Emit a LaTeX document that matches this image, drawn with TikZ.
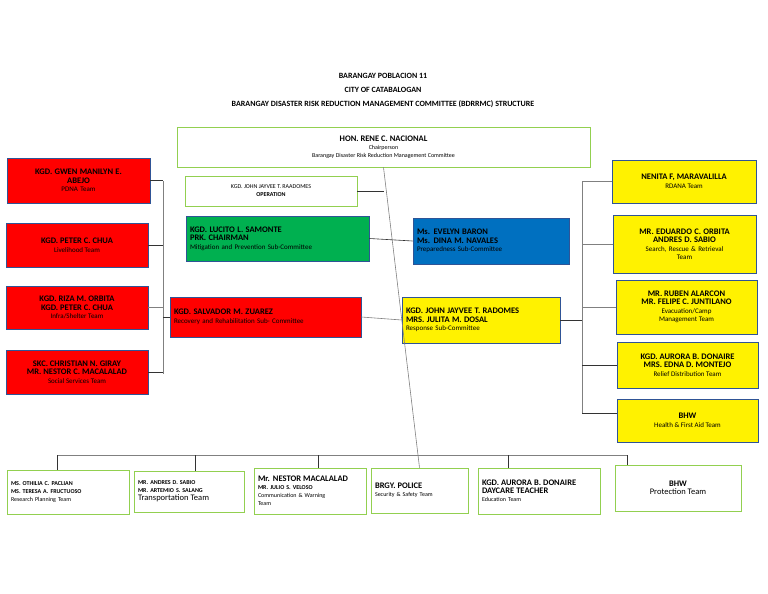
\documentclass[tikz,border=0pt]{standalone}
\usepackage{fontspec}
\setmainfont{Carlito}
\usetikzlibrary{positioning}
\definecolor{boxgreen}{RGB}{0,176,80}
\definecolor{boxblue}{RGB}{0,112,192}
\definecolor{framegreen}{RGB}{146,208,80}
\definecolor{frameblue}{RGB}{47,84,150}
\tikzset{
  unit/.style={draw=frameblue,line width=0.8pt,inner sep=2pt,font=\fontsize{7}{8.5}\selectfont},
  redbox/.style={unit,fill=red},
  yelbox/.style={unit,fill=yellow},
  plainbox/.style={draw=framegreen,line width=0.8pt,fill=white,inner sep=3pt,font=\fontsize{6}{8}\selectfont},
  link/.style={black!80,line width=0.6pt}
}
\newcommand{\nm}[1]{{\bfseries\fontsize{8.5}{10}\selectfont #1}}
\begin{document}
\begin{tikzpicture}[x=1pt,y=-1pt]
  \useasboundingbox (0,0) rectangle (768,594);
  %title
  \node[align=center,font=\bfseries\fontsize{8}{14}\selectfont] (title) at (383,90)
    {BARANGAY POBLACION 11\\CITY OF CATABALOGAN\\BARANGAY DISASTER RISK REDUCTION MANAGEMENT COMMITTEE (BDRRMC) STRUCTURE};
  %chairperson
  \node[plainbox,minimum width=413,minimum height=40,align=center] (chair) at (383.5,147)
    {\nm{HON. RENE C. NACIONAL}\\Chairperson\\Barangay Disaster Risk Reduction Management Committee};
  \node[plainbox,minimum width=172,minimum height=30,align=center] (oper) at (271,191)
    {KGD. JOHN JAYVEE T. RAADOMES\\\textbf{OPERATION}};
  %sub-committees
  \node[unit,fill=boxgreen,minimum width=183,minimum height=45,align=left,text width=175] (mitig) at (277.5,238.5)
    {\nm{KGD. LUCITO L. SAMONTE}\\\nm{PRK. CHAIRMAN}\\Mitigation and Prevention Sub-Committee};
  \node[unit,fill=boxblue,minimum width=156,minimum height=46,align=left,text width=148] (prep) at (491,241)
    {\nm{Ms. EVELYN BARON}\\\nm{Ms. DINA M. NAVALES}\\Preparedness Sub-Committee};
  \node[redbox,minimum width=191,minimum height=40,align=left,text width=183] (recov) at (265.5,317)
    {\nm{KGD. SALVADOR M. ZUAREZ}\\Recovery and Rehabilitation Sub- Committee};
  \node[yelbox,minimum width=158,minimum height=46,align=left,text width=150] (resp) at (481,320)
    {\nm{KGD. JOHN JAYVEE T. RADOMES}\\\nm{MRS. JULITA M. DOSAL}\\Response Sub-Committee};
  %left teams
  \node[redbox,minimum width=143,minimum height=45,align=center,text width=135] (pdna) at (78.5,180.5)
    {\nm{KGD. GWEN MANILYN E.}\\\nm{ABEJO}\\PDNA Team};
  \node[redbox,minimum width=142,minimum height=44,align=center] (livelihood) at (77,245)
    {\nm{KGD. PETER C. CHUA}\\Livelihood Team};
  \node[redbox,minimum width=142,minimum height=43,align=center] (shelter) at (77,307.5)
    {\nm{KGD. RIZA M. ORBITA}\\\nm{KGD. PETER C. CHUA}\\Infra/Shelter Team};
  \node[redbox,minimum width=142,minimum height=44,align=center] (social) at (77,372)
    {\nm{SKC. CHRISTIAN N. GIRAY}\\\nm{MR. NESTOR C. MACALALAD}\\Social Services Team};
  %right teams
  \node[yelbox,minimum width=144,minimum height=43,align=center] (rdana) at (684,181.5)
    {\nm{NENITA F, MARAVALILLA}\\RDANA Team};
  \node[yelbox,minimum width=143,minimum height=58,align=center,text width=135] (search) at (684.5,244)
    {\nm{MR. EDUARDO C. ORBITA}\\\nm{ANDRES D. SABIO}\\Search, Rescue \& Retrieval\\Team};
  \node[yelbox,minimum width=141,minimum height=54,align=center] (evac) at (686.5,307)
    {\nm{MR. RUBEN ALARCON}\\\nm{MR. FELIPE C. JUNTILANO}\\Evacuation/Camp\\Management Team};
  \node[yelbox,minimum width=141,minimum height=46,align=center] (relief) at (687.5,365)
    {\nm{KGD. AURORA B. DONAIRE}\\\nm{MRS. EDNA D. MONTEJO}\\Relief Distribution Team};
  \node[yelbox,minimum width=141,minimum height=43,align=center] (health) at (687.5,420.5)
    {\nm{BHW}\\Health \& First Aid Team};
  %bottom teams
  \node[plainbox,minimum width=122,minimum height=44,align=left,text width=114] (research) at (68,492)
    {\textbf{MS. OTHILIA C. PACLIAN}\\\textbf{MS. TERESA A. FRUCTUOSO}\\Research Planning Team};
  \node[plainbox,minimum width=110,minimum height=41,align=left,text width=102] (transport) at (189,491.5)
    {\textbf{MR. ANDRES D. SABIO}\\\textbf{MR. ARTEMIO S. SALANG}\\\nm{\mdseries Transportation Team}};
  \node[plainbox,minimum width=112,minimum height=46,align=left,text width=104] (comm) at (310,491)
    {\nm{Mr. NESTOR MACALALAD}\\\textbf{MR. JULIO S. VELOSO}\\Communication \& Warning\\Team};
  \node[plainbox,minimum width=97,minimum height=45,align=left,text width=89] (police) at (419.5,490.5)
    {\nm{BRGY. POLICE}\\Security \& Safety Team};
  \node[plainbox,minimum width=122,minimum height=46,align=left,text width=114] (educ) at (539,491)
    {\nm{KGD. AURORA B. DONAIRE}\\\nm{DAYCARE TEACHER}\\Education Team};
  \node[plainbox,minimum width=126,minimum height=46,align=center] (protect) at (678,488)
    {\nm{BHW}\\\nm{\mdseries Protection Team}};
  %trunks
  \coordinate (ltop) at (163,181);
  \coordinate (lbot) at (163,374);
  \coordinate (rtop) at (582,181);
  \coordinate (rbot) at (582,413);
  \coordinate (bl) at (57,455);
  \coordinate (br) at (627,455);
  \draw[link,gray] (chair.south) -- (police.north);
  \draw[link,gray] (ltop) -- (lbot);
  \draw[link,gray] (rtop) -- (rbot);
  \draw[link,gray] (bl) -- (br);
  %links to main trunk
  \draw[link] (oper.east) -- (oper.east -| chair.south);
  \draw[link] (mitig.east) -- (prep.west);
  \draw[link,gray] (recov.east) -- (resp.west);
  \draw[link] (resp.east) -- (resp.east -| rtop);
  \draw[link] (recov.west) -- (recov.west -| ltop);
  %left team links
  \foreach \t in {pdna,livelihood,social}
    \draw[link] (\t.east) -- (\t.east -| ltop);
  \draw[link,gray] (shelter.east) -- (shelter.east -| ltop);
  %right team links
  \draw[link,gray] (rtop) -- (rdana.west |- rtop);
  \foreach \t in {search,evac}
    \draw[link,gray] (\t.west -| rtop) -- (\t.west);
  \draw[link] (relief.west -| rtop) -- (relief.west);
  \draw[link] (rbot) -- (health.west |- rbot);
  %bottom team links
  \foreach \t/\x in {research/57,transport/195,comm/318,educ/508,protect/627}{
    \coordinate (drop) at (\x,455);
    \draw[link] (drop) -- (drop |- \t.north);
  }
\end{tikzpicture}
\end{document}
